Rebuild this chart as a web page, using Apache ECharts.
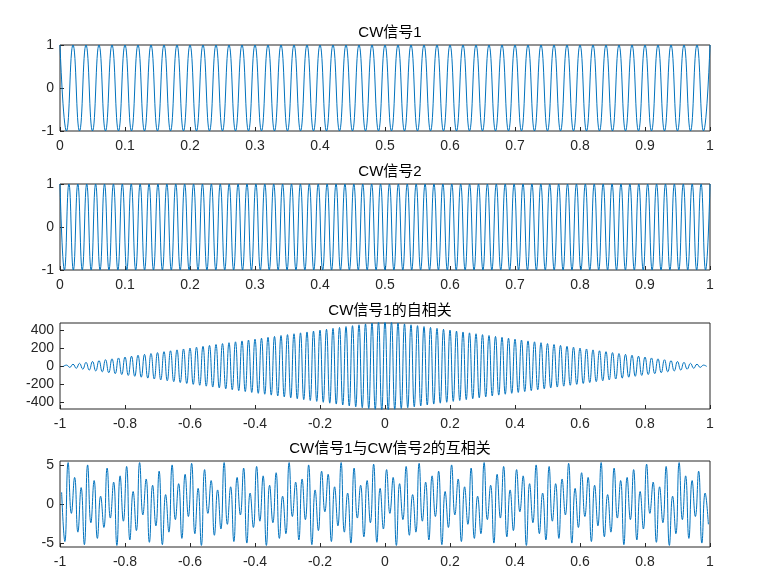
<!DOCTYPE html>
<html><head><meta charset="utf-8">
<script src="https://cdn.jsdelivr.net/npm/echarts@6/dist/echarts.min.js"></script>
<style>html,body{margin:0;background:#fff}#c{width:761px;height:587px}</style>
</head><body><div id="c"></div>
<script>
// Extremum values (evenly spaced in time)
var titles = ['CW信号1','CW信号2','CW信号1的自相关','CW信号1与CW信号2的互相关'];
var cw1 = [1,-1,1,-1,1,-1,1,-1,1,-1,1,-1,1,-1,1,-1,1,-1,1,-1,1,-1,1,-1,1,-1,1,-1,1,-1,1,-1,1,-1,1,-1,1,-1,1,-1,1,-1,1,-1,1,-1,1,-1,1,-1,1,-1,1,-1,1,-1,1,-1,1,-1,1,-1,1,-1,1,-1,1,-1,1,-1,1,-1,1,-1,1,-1,1,-1,1,-1,1,-1,1,-1,1,-1,1,-1,1,-1,1,-1,1,-1,1,-1,1,-1,1,-1,1];
var cw2 = [1,-1,1,-1,1,-1,1,-1,1,-1,1,-1,1,-1,1,-1,1,-1,1,-1,1,-1,1,-1,1,-1,1,-1,1,-1,1,-1,1,-1,1,-1,1,-1,1,-1,1,-1,1,-1,1,-1,1,-1,1,-1,1,-1,1,-1,1,-1,1,-1,1,-1,1,-1,1,-1,1,-1,1,-1,1,-1,1,-1,1,-1,1,-1,1,-1,1,-1,1,-1,1,-1,1,-1,1,-1,1,-1,1,-1,1,-1,1,-1,1,-1,1,-1,1,-1,1,-1,1,-1,1,-1,1,-1,1,-1,1,-1,1,-1,1,-1,1,-1,1,-1,1,-1,1,-1,1,-1,1,-1,1,-1,1,-1,1,-1,1,-1,1,-1,1,-1,1,-1,1,-1,1];
var auto = [-5,10,-15,20,-25,30,-35,40,-45,50,-55,60,-65,70,-75,80,-85,90,-95,100,
-105,110,-115,120,-125,130,-135,140,-145,150,-155,160,-165,170,-175,180,-185,190,-195,200,
-205,210,-215,220,-225,230,-235,240,-245,250,-255,260,-265,270,-275,280,-285,290,-295,300,
-305,310,-315,320,-325,330,-335,340,-345,350,-355,360,-365,370,-375,380,-385,390,-395,400,
-405,410,-415,420,-425,430,-435,440,-445,450,-455,460,-465,470,-475,480,-485,490,-495,
500,
-495,490,-485,480,-475,470,-465,460,-455,450,-445,440,-435,430,-425,420,-415,410,-405,
400,-395,390,-385,380,-375,370,-365,360,-355,350,-345,340,-335,330,-325,320,-315,310,-305,
300,-295,290,-285,280,-275,270,-265,260,-255,250,-245,240,-235,230,-225,220,-215,210,-205,
200,-195,190,-185,180,-175,170,-165,160,-155,150,-145,140,-135,130,-125,120,-115,110,-105,
100,-95,90,-85,80,-75,70,-65,60,-55,50,-45,40,-35,30,-25,20,-15,10,-5];
var cross = [1.5,-4.8,5.3,-1.2,3.4,-3.6,2.1,-5.2,5.0,-2.4,3.0,-4.4,1.0,-3.0,4.6,-1.8,2.8,-5.3,3.6,-2.2,
4.8,-4.6,1.6,-3.4,5.3,-1.4,3.2,-4.9,2.4,-2.8,4.2,-5.2,1.2,-3.6,5.0,-2.0,2.6,-4.4,3.8,-1.6,
5.2,-3.8,2.0,-5.3,4.4,-1.2,3.0,-4.0,1.8,-3.2,5.3,-2.6,2.2,-4.8,3.4,-1.4,4.6,-5.0,1.4,-3.0,
4.8,-2.2,3.6,-5.3,2.4,-2.4,4.0,-4.4,1.0,-3.8,5.3,-1.6,2.8,-4.6,3.2,-2.0,5.0,-5.2,1.8,-3.4,
4.2,-1.0,3.8,-4.8,2.2,-2.8,5.3,-3.6,1.4,-5.0,4.6,-1.8,2.4,-4.2,3.0,-2.4,5.1,-4.9,2.0,-3.2,
4.4,-1.2,3.4,-5.3,2.6,-2.0,4.8,-4.0,1.2,-3.6,5.2,-2.2,2.8,-4.6,3.6,-1.6,4.2,-5.2,1.6,-3.0,
5.0,-1.4,3.2,-4.8,2.2,-2.6,4.6,-4.4,1.0,-3.8,5.3,-2.0,2.4,-5.0,3.8,-1.8,4.8,-4.2,1.8,-3.4,
4.4,-1.0,3.6,-5.3,2.6,-2.4,5.0,-3.8,1.4,-4.6,4.8,-2.2,2.6,-4.4,3.2,-1.4,5.2,-5.0,2.0,-3.0,
4.0,-1.6,3.4,-4.8,2.4,-2.8,5.3,-4.2,1.2,-3.6,4.6,-1.8,3.0,-5.2,3.4,-2.0,4.4,-4.6,1.6,-3.2,
5.1,-1.2,2.8,-4.9,2.2,-2.4,4.8,-5.3,1.0,-3.8,5.3,-2.0,3.6,-4.4,3.0,-1.6,4.2,-5.0,1.4,-2.6];

function pts(arr, t0, t1){var n=arr.length;return arr.map(function(v,i){return [t0+(t1-t0)*i/(n-1), v];});}
var tops=[45,184,323,461], h=86;
var C='#262626', F='Liberation Sans';
var grids=[],xs=[],ys=[],ss=[],ts=[];
var yr=[[-1,1,[-1,0,1]],[-1,1,[-1,0,1]],[-480,480,[-400,-200,0,200,400]],[-5.5,5.5,[-5,0,5]]];
var data=[pts(cw1,0,1),pts(cw2,0,1),pts(auto,-0.99,0.99),pts(cross,-0.995,0.995)];
for(var i=0;i<4;i++){
  grids.push({left:60,right:51,top:tops[i],height:h,show:true,borderColor:C,borderWidth:1});
  var xmin=i<2?0:-1;
  xs.push({type:'value',gridIndex:i,min:xmin,max:1,interval:i<2?0.1:0.2,position:'bottom',
    axisLine:{show:false,onZero:false},splitLine:{show:false},
    axisTick:{inside:true,length:4,lineStyle:{color:C}},
    axisLabel:{color:C,fontSize:14,fontFamily:F,margin:8,formatter:function(v){return String(Math.round(v*10)/10);}}});
  ys.push({type:'value',gridIndex:i,min:yr[i][0],max:yr[i][1],position:'left',
    axisLine:{show:false,onZero:false},splitLine:{show:false},
    axisTick:{inside:true,length:4,lineStyle:{color:C},customValues:yr[i][2]},
    axisLabel:{color:C,fontSize:14,fontFamily:F,margin:6,customValues:yr[i][2]}});
  ss.push({type:'line',xAxisIndex:i,yAxisIndex:i,data:data[i],showSymbol:false,smooth:0.5,
    clip:true,lineStyle:{color:'#0072BD',width:1},animation:false});
  ts.push({text:titles[i],left:385,textAlign:'center',top:tops[i]-25,
    textStyle:{color:'#000',fontSize:15,fontWeight:'normal',fontFamily:'Liberation Sans, Noto Sans CJK SC'}});
}
var chart=echarts.init(document.getElementById('c'));
chart.setOption({animation:false,title:ts,grid:grids,xAxis:xs,yAxis:ys,series:ss});
</script></body></html>
